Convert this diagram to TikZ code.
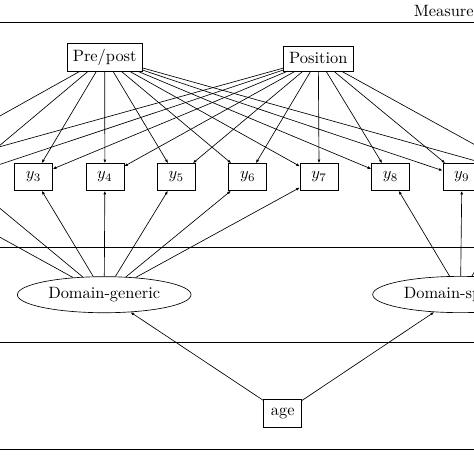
\documentclass[tikz,border=0pt]{standalone}
\usetikzlibrary{arrows.meta,shapes.geometric}
\tikzset{
  obs/.style={draw, rectangle, inner sep=3.33pt, minimum width=23.2pt, minimum height=16.5pt},
  cov/.style={draw, rectangle, inner sep=3.33pt},
  lat/.style={draw, ellipse, inner sep=3.33pt},
  conn/.style={-{Latex[length=2.2pt,width=1.8pt]}, line width=0.4pt},
  plate/.style={line width=0.5pt}
}
\begin{document}
\begin{tikzpicture}[x=0.6098pt, y=-0.6098pt]
\useasboundingbox (0,0) rectangle (474,474);
\clip (0,0) rectangle (474,474);
% plates
\draw[plate] (-200,22.5) -- (700,22.5);
\draw[plate] (-200,247.3) -- (700,247.3);
\draw[plate] (-200,342.3) -- (700,342.3);
\draw[plate] (-200,449.3) -- (700,449.3);
\node[anchor=base east, inner sep=0pt] (meas) at (474,16.5) {Measure};
% covariate nodes
\node[cov] (pp) at (104.7,57.4) {Pre/post};
\node[cov, minimum height=15.3pt] (pos) at (318.3,58.4) {Position};
% observed nodes (y1, y2, y10 lie outside the visible frame)
\coordinate (y1) at ({33.5+71.4*(1-3)},177);
\coordinate (y2) at ({33.5+71.4*(2-3)},177);
\coordinate (y10) at ({33.5+71.4*(10-3)},177);
\foreach \i in {3,...,9}{
  \node[obs] (y\i) at ({33.5+71.4*(\i-3)},177) {$y_{\i}$};
}
% latent nodes
\node[lat] (dg) at (104.2,294.7) {Domain-generic};
\node[lat] (ds) at (460.5,294.5) {Domain-specific};
% age
\node[obs] (age) at (282.8,413.3) {age};
% edges
\foreach \i in {1,...,10}{
  \draw[conn] (pp) -- (y\i);
  \draw[conn] (pos) -- (y\i);
}
\foreach \i in {1,...,7}{
  \draw[conn] (dg) -- (y\i);
}
\foreach \i in {8,9,10}{
  \draw[conn] (ds) -- (y\i);
}
\draw[conn] (age) -- (dg);
\draw[conn] (age) -- (ds);
\end{tikzpicture}
\end{document}
